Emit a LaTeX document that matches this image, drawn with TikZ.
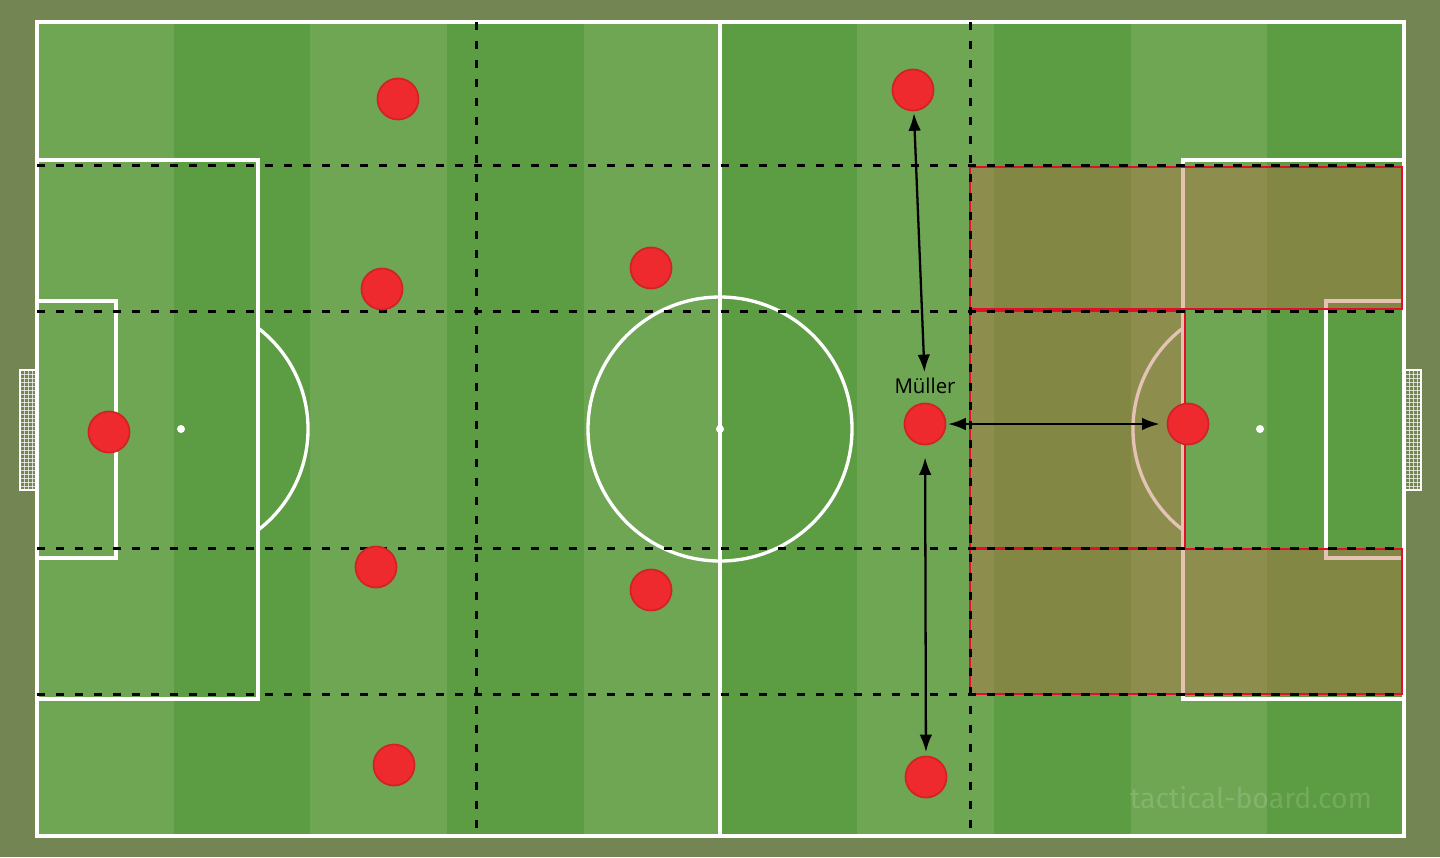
\documentclass[tikz,border=0pt]{standalone}
\usepackage{fontspec}
\usepackage{tikz}
\usetikzlibrary{arrows.meta}
\newfontfamily\labelfont{Open Sans}
\newfontfamily\brandfont{Fira Sans}
\definecolor{pitchbg}{HTML}{738553}
\definecolor{lightgrass}{HTML}{6FA653}
\definecolor{darkgrass}{HTML}{5C9C42}
\definecolor{playerred}{HTML}{EE2A2F}
\definecolor{playeredge}{HTML}{CF2328}
\definecolor{zonefill}{RGB}{188,106,70}
\definecolor{zoneedge}{HTML}{E0102A}
\tikzset{
  pitchline/.style={white, line width=0.95pt},
  netline/.style={white, line width=0.25pt},
  gridline/.style={black, line width=0.85pt, dash pattern=on 2.4pt off 3pt},
  zone/.style={fill=zonefill, fill opacity=0.4, draw=zoneedge, line width=0.4pt},
  player/.style={circle, fill=playerred, draw=playeredge, line width=0.5pt, minimum size=0.41cm, inner sep=0pt},
  run/.style={black, line width=0.65pt, {Latex[length=5pt,width=3.6pt]}-{Latex[length=5pt,width=3.6pt]}},
  namelabel/.style={font=\labelfont\fontsize{5.8}{7}\selectfont, inner sep=1pt},
  watermark/.style={font=\brandfont\fontsize{8.1}{10}\selectfont, text=white, text opacity=0.15, inner sep=0pt}
}
\begin{document}
\begin{tikzpicture}[x=0.01cm, y=-0.01cm]
\useasboundingbox (0,0) rectangle (1440,857);
%Background and grass
\fill[pitchbg] (0,0) rectangle (1440,857);
\fill[darkgrass] (37,22) rectangle (1404,836);
\foreach \i in {0,2,4,6,8}
  \fill[lightgrass] (37+136.7*\i,22) rectangle (37+136.7*\i+136.7,836);
%Goals
\foreach \gx in {20,1405}{
  \foreach \k in {374,378,...,486}
    \draw[netline, draw opacity=0.7] (\gx,\k) -- (\gx+16,\k);
  \foreach \k in {4,8,12}
    \draw[netline, draw opacity=0.7] (\gx+\k,370) -- (\gx+\k,490);
  \draw[white, line width=0.6pt] (\gx,370) rectangle (\gx+16,490);
}
%Pitch markings
\draw[pitchline] (37,22) rectangle (1404,836);
\draw[pitchline] (720,22) -- (720,836);
\draw[pitchline] (720,429) circle[radius=132];
\fill[white] (720,429) circle[radius=4];
%Left half
\draw[pitchline] (37,160) rectangle (258,699);
\draw[pitchline] (37,301) rectangle (116,558);
\fill[white] (181,429) circle[radius=4];
\draw[pitchline] (258,328) arc[start angle=-52.7, end angle=52.7, radius=127];
%Right half
\draw[pitchline] (1183,160) rectangle (1404,699);
\draw[pitchline] (1326,301) rectangle (1404,558);
\fill[white] (1260,429) circle[radius=4];
\draw[pitchline] (1183,328) arc[start angle=232.7, end angle=127.3, radius=127];
%Zones
\filldraw[zone] (970,167) rectangle (1402,309);
\filldraw[zone] (970,311) rectangle (1185,548);
\filldraw[zone] (970,549) rectangle (1402,694);
%Grid
\foreach \gy in {165,311,548,694}
  \draw[gridline] (37,\gy) -- (1404,\gy);
\foreach \gx in {476,970}
  \draw[gridline] (\gx,22) -- (\gx,836);
%Players
\node[player] (gk) at (109,432) {};
\node[player] (dl) at (398,99) {};
\node[player] (dcl) at (382,289) {};
\node[player] (dcr) at (376,567) {};
\node[player] (dr) at (394,765) {};
\node[player] (mcl) at (651,268) {};
\node[player] (mcr) at (651,590) {};
\node[player] (wl) at (913,90) {};
\node[player] (mueller) at (925,424) {};
\node[player] (wr) at (926,777) {};
\node[player] (st) at (1188,424) {};
\node[namelabel] (muellername) at (925,386) {Müller};
%Runs
\draw[run, shorten <=0.5pt, shorten >=0.5pt] (wl) -- (muellername);
\draw[run, shorten <=0.5pt, shorten >=2pt] (mueller) -- (st);
\draw[run, shorten <=3.4pt, shorten >=1pt] (mueller) -- (wr);
\node[watermark] (brand) at (1251,798) {tactical-board.com};
\end{tikzpicture}
\end{document}
